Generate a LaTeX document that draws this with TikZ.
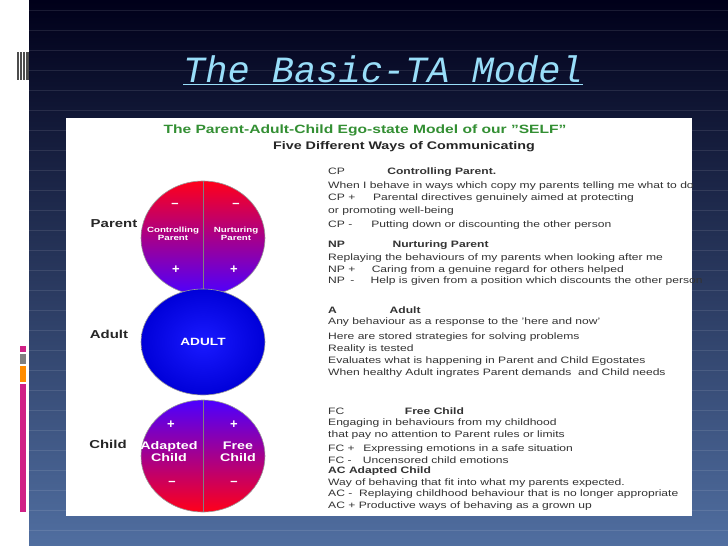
\documentclass[tikz,border=0pt]{standalone}
\usepackage{fontspec}
\setmainfont{Liberation Sans}
\setmonofont{Liberation Mono}
\newcommand{\widen}[1]{\scalebox{1.3}[1]{#1}}
\begin{document}
\begin{tikzpicture}[x=1pt,y=-1pt,
  txt/.style={anchor=west,inner sep=0pt,font=\fontsize{9.3}{10}\selectfont,text=black!80},
  lbl/.style={font=\bfseries\fontsize{11.5}{12}\selectfont,text=black!85},
  ego/.style={draw=black!40,line width=0.6pt},
  inl/.style={font=\bfseries\fontsize{7.5}{8.5}\selectfont,text=white,align=center},
  sgn/.style={font=\bfseries\fontsize{13}{13}\selectfont,text=white}]
\useasboundingbox (0,0) rectangle (728,546);
\fill[white] (0,0) rectangle (29,546);
\shade[top color=black!90!blue,bottom color={rgb,255:red,80;green,110;blue,160}] (29,0) rectangle (728,546);
\foreach \yy in {10,30,...,546} \draw[white,opacity=0.1] (29,\yy) -- (728,\yy);
\fill[black!70] (17,52) rectangle (29,80);
\foreach \xx in {19,22,25} \draw[white,line width=0.8pt] (\xx,52) -- (\xx,80);
\fill[magenta!85!black] (20,346) rectangle (26,352);
\fill[gray] (20,354) rectangle (26,364);
\fill[orange!90!yellow] (20,366) rectangle (26,382);
\fill[magenta!85!black] (20,384) rectangle (26,512);
\node[inner sep=0pt,font=\ttfamily\itshape\fontsize{37}{38}\selectfont,text=cyan!40!white] (title) at (383,70) {\underline{The Basic-TA Model}};
\node[fill=white,minimum width=626pt,minimum height=398pt,inner sep=0pt] (panel) at (379,317) {};
\node[font=\bfseries\fontsize{12}{13}\selectfont,text=green!45!black!80] (h1) at (365,130) {\widen{The Parent-Adult-Child Ego-state Model of our "SELF"}};
\node[font=\bfseries\fontsize{11}{12}\selectfont,text=black!85] (h2) at (404,147) {\widen{Five Different Ways of Communicating}};
\node[lbl] (lp) at (114,224) {\widen{Parent}};
\node[lbl] (la) at (109,334) {\widen{Adult}};
\node[lbl] (lc) at (108,444) {\widen{Child}};
\shade[ego,top color=red!90!magenta,bottom color=blue!70!magenta] (203,238) ellipse (62 and 57);
\draw[black!50] (203,181) -- (203,295);
\shade[ego,inner color=blue!90!white,outer color=blue!85!black] (203,342) ellipse (62 and 53);
\shade[ego,top color=blue!70!magenta,bottom color=red!90!magenta] (203,456) ellipse (62 and 56);
\draw[black!50] (203,400) -- (203,512);
\node[inl] (cp) at (173,234) {\widen{Controlling}\\\widen{Parent}};
\node[inl] (np) at (236,234) {\widen{Nurturing}\\\widen{Parent}};
\node[sgn] (m1) at (175,205) {--};
\node[sgn] (m2) at (236,205) {--};
\node[sgn] (p1) at (176,270) {+};
\node[sgn] (p2) at (234,270) {+};
\node[font=\bfseries\fontsize{10.5}{11}\selectfont,text=white] (ad) at (203,342) {\widen{ADULT}};
\node[font=\bfseries\fontsize{11}{12}\selectfont,text=white,align=center] (ac) at (169,452) {\widen{Adapted}\\\widen{Child}};
\node[font=\bfseries\fontsize{11}{12}\selectfont,text=white,align=center] (fc) at (238,452) {\widen{Free}\\\widen{Child}};
\node[sgn] (p3) at (171,425) {+};
\node[sgn] (p4) at (234,425) {+};
\node[sgn] (m3) at (172,483) {--};
\node[sgn] (m4) at (234,483) {--};
\begin{scope}[every node/.style={txt}]
\node at (328,172) {\widen{CP \hspace{30pt}\textbf{Controlling Parent.}}};
\node at (328,186) {\widen{When I behave in ways which copy my parents telling me what to do}};
\node at (328,198) {\widen{CP + \hspace{11pt}Parental directives genuinely aimed at protecting}};
\node at (328,211) {\widen{or promoting well-being}};
\node at (328,225) {\widen{CP - \hspace{12pt}Putting down or discounting the other person}};
\node at (328,245) {\widen{\textbf{NP} \hspace{34pt}\textbf{Nurturing Parent}}};
\node at (328,258) {\widen{Replaying the behaviours of my parents when looking after me}};
\node at (328,270) {\widen{NP + \hspace{10pt}Caring from a genuine regard for others helped}};
\node at (328,281) {\widen{NP \,- \hspace{10pt}Help is given from a position which discounts the other person}};
\node at (328,310) {\widen{\textbf{A} \hspace{38pt}\textbf{Adult}}};
\node at (328,322) {\widen{Any behaviour as a response to the 'here and now'}};
\node at (328,337) {\widen{Here are stored strategies for solving problems}};
\node at (328,349) {\widen{Reality is tested}};
\node at (328,361) {\widen{Evaluates what is happening in Parent and Child Egostates}};
\node at (328,373) {\widen{When healthy Adult ingrates Parent demands \ and Child needs}};
\node at (328,411) {\widen{FC \hspace{44pt}\textbf{Free Child}}};
\node at (328,423) {\widen{Engaging in behaviours from my childhood}};
\node at (328,435) {\widen{that pay no attention to Parent rules or limits}};
\node at (328,449) {\widen{FC + \hspace{4pt}Expressing emotions in a safe situation}};
\node at (328,460) {\widen{FC - \hspace{6pt}Uncensored child emotions}};
\node at (328,471) {\widen{\textbf{AC Adapted Child}}};
\node at (328,483) {\widen{Way of behaving that fit into what my parents expected.}};
\node at (328,494) {\widen{AC - \ Replaying childhood behaviour that is no longer appropriate}};
\node at (328,506) {\widen{AC + Productive ways of behaving as a grown up}};
\end{scope}
\end{tikzpicture}
\end{document}
